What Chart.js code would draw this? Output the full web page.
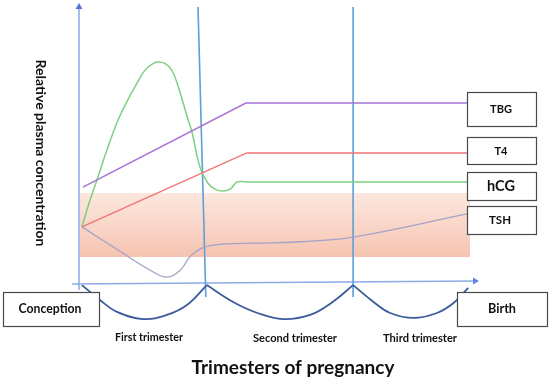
<!DOCTYPE html>
<html><head><meta charset="utf-8">
<script src="https://cdn.jsdelivr.net/npm/chart.js@4"></script>
<style>html,body{margin:0;padding:0;background:#fff;}canvas{display:block;}</style>
</head><body>
<canvas id="c" width="550" height="383"></canvas>
<script>
// x = weeks of gestation (0 = conception, 40 = birth), y = relative plasma concentration (0-100)
const trimesterLabels = ['First trimester', 'Second trimester', 'Third trimester'];
const seriesNames = ['TBG', 'T4', 'hCG', 'TSH'];

const tbg = [{x:0.3,y:35.1},{x:17.0,y:65.6},{x:39.7,y:65.6}];
const t4  = [{x:0.2,y:20.7},{x:17.1,y:47.5},{x:39.7,y:47.5}];
const hcg = [{x:0.2,y:20.7},{x:1.03,y:30.4},{x:1.74,y:37.7},{x:2.77,y:48.6},{x:3.9,y:59.4},{x:4.9,y:66.7},
             {x:5.85,y:72.8},{x:6.67,y:77.5},{x:7.4,y:79.7},{x:8.0,y:80.4},{x:8.7,y:79.9},{x:9.4,y:77.5},
             {x:9.95,y:72.8},{x:11.0,y:60.5},{x:11.5,y:54.7},{x:12.3,y:42.4},{x:13.1,y:36.6},{x:13.85,y:34.4},
             {x:14.6,y:33.7},{x:15.4,y:34.4},{x:16.1,y:37.0},{x:16.9,y:37.0},{x:39.7,y:37.0}];
const tsh = [{x:0.2,y:20.7},{x:3.9,y:12.3},{x:7.2,y:5.0},{x:8.9,y:2.5},{x:10.3,y:5.1},{x:11.3,y:10.0},
             {x:12.6,y:13.2},{x:14.4,y:14.4},{x:19.5,y:14.9},{x:22.6,y:15.3},{x:28.0,y:17.0},{x:39.7,y:25.4}];
const bandTop    = [{x:0,y:33.0},{x:40.0,y:33.0}];
const bandBottom = [{x:0,y:9.8},{x:40.0,y:9.8}];
const yAxisLine = [{x:-0.1,y:-2.2},{x:-0.1,y:100.4}];
const xAxisLine = [{x:-0.82,y:0},{x:40.5,y:1.1}];
const trimester1Line = [{x:12.9,y:-4.7},{x:12.1,y:100.4}];
const trimester2Line = [{x:28.0,y:-4.7},{x:28.0,y:100.4}];
const scallop1 = [{x:0.2,y:-0.4},{x:2.05,y:-5.8},{x:3.8,y:-10.1},{x:6.5,y:-12.7},{x:8.9,y:-11.2},{x:11.0,y:-7.5},{x:13.0,y:-0.4}];
const scallop2 = [{x:13.0,y:-0.4},{x:15.7,y:-6.5},{x:18.2,y:-10.5},{x:20.8,y:-12.7},{x:23.6,y:-11.2},{x:25.9,y:-6.5},{x:28.0,y:-0.4}];
const scallop3 = [{x:28.0,y:-0.4},{x:30.1,y:-6.5},{x:31.8,y:-10.5},{x:34.2,y:-12.3},{x:36.6,y:-10.5},{x:38.3,y:-6.9},{x:39.8,y:-1.4}];

function ds(data, color, width, extra) {
  return Object.assign({data, borderColor: color, borderWidth: width, pointRadius: 0, fill: false,
    clip: false, tension: 0, order: 1, showLine: true}, extra || {});
}
const smooth = {tension: 0.4};
const axisColor = '#8eaae8';
const triColor = '#5c9fd9';
const scallopColor = '#3b5b9c';

function fitText(c, text, cx, cy, w, rot) {
  c.save();
  c.font = 'bold 20px Lato';
  const m = c.measureText(text).width;
  c.font = 'bold ' + (20 * w / m).toFixed(2) + 'px Lato';
  c.translate(cx, cy);
  if (rot) c.rotate(rot);
  c.textAlign = 'center'; c.textBaseline = 'middle';
  c.fillStyle = '#111';
  c.fillText(text, 0, 0);
  c.restore();
}
function box(c, x0, y0, x1, y1) {
  c.save();
  c.fillStyle = '#fff';
  c.fillRect(x0, y0, x1 - x0, y1 - y0);
  c.strokeStyle = '#4a4a4a';
  c.lineWidth = 1.2;
  c.strokeRect(x0 + 0.5, y0 + 0.5, x1 - x0, y1 - y0);
  c.restore();
}

const annotations = {
  id: 'annotations',
  afterDatasetsDraw(chart) {
    const c = chart.ctx;
    box(c, 467, 92, 536, 126);  fitText(c, seriesNames[0], 501, 109, 22);
    box(c, 467, 137, 536, 164); fitText(c, seriesNames[1], 501, 151, 13);
    box(c, 467, 172, 536, 200); fitText(c, seriesNames[2], 501, 186, 28);
    box(c, 467, 206, 536, 234); fitText(c, seriesNames[3], 500, 220, 22);
    box(c, 3, 292, 99, 326);    fitText(c, 'Conception', 50, 309, 63);
    box(c, 457, 292, 547, 326); fitText(c, 'Birth', 502, 309, 28);
    fitText(c, trimesterLabels[0], 149, 338, 68);
    fitText(c, trimesterLabels[1], 295, 338, 84);
    fitText(c, trimesterLabels[2], 420, 338, 74);
    fitText(c, 'Trimesters of pregnancy', 293, 368, 203);
    fitText(c, 'Relative plasma concentration', 41, 153, 187, Math.PI / 2);
  }
};

function bandGradient(ctx) {
  const chart = ctx.chart;
  if (!chart.chartArea) return 'rgba(246,200,182,0.8)';
  const ys = chart.scales.y;
  const g = chart.ctx.createLinearGradient(0, ys.getPixelForValue(bandTop[0].y), 0, ys.getPixelForValue(bandBottom[0].y));
  g.addColorStop(0, '#fce7de');
  g.addColorStop(0.55, '#f9d5c7');
  g.addColorStop(1, '#f5c3b0');
  return g;
}

new Chart(document.getElementById('c'), {
  type: 'scatter',
  data: {
    datasets: [
      ds(bandBottom, 'rgba(0,0,0,0)', 0, {order: 10}),
      ds(bandTop, 'rgba(0,0,0,0)', 0, {order: 9, fill: '-1', backgroundColor: bandGradient}),
      ds(tsh, '#a4a2c6', 1.3, smooth),
      ds(t4, '#f27474', 1.5),
      ds(tbg, '#a874d6', 1.6),
      ds(hcg, '#7fcf80', 1.5, smooth),
      ds(scallop1, scallopColor, 1.8, smooth),
      ds(scallop2, scallopColor, 1.8, smooth),
      ds(scallop3, scallopColor, 1.8, smooth),
      ds(trimester1Line, triColor, 1.6),
      ds(trimester2Line, triColor, 1.6),
      ds(xAxisLine, axisColor, 1.5, {pointStyle: 'triangle', pointRotation: 90,
        pointRadius: (c) => c.dataIndex === 1 ? 4 : 0, pointBackgroundColor: '#5f86dc', pointBorderColor: '#5f86dc', pointBorderWidth: 0}),
      ds(yAxisLine, axisColor, 1.5, {pointStyle: 'triangle', pointRotation: 0,
        pointRadius: (c) => c.dataIndex === 1 ? 4 : 0, pointBackgroundColor: '#4f78d6', pointBorderColor: '#4f78d6', pointBorderWidth: 0})
    ]
  },
  options: {
    responsive: false,
    animation: false,
    events: [],
    layout: {padding: {left: 80, right: 75, top: 8, bottom: 43.8}},
    plugins: {legend: {display: false}, title: {display: false}, tooltip: {enabled: false}},
    scales: {
      x: {type: 'linear', min: 0, max: 40.5, display: false},
      y: {type: 'linear', min: -20, max: 100, display: false}
    }
  },
  plugins: [annotations]
});
</script>
</body></html>
